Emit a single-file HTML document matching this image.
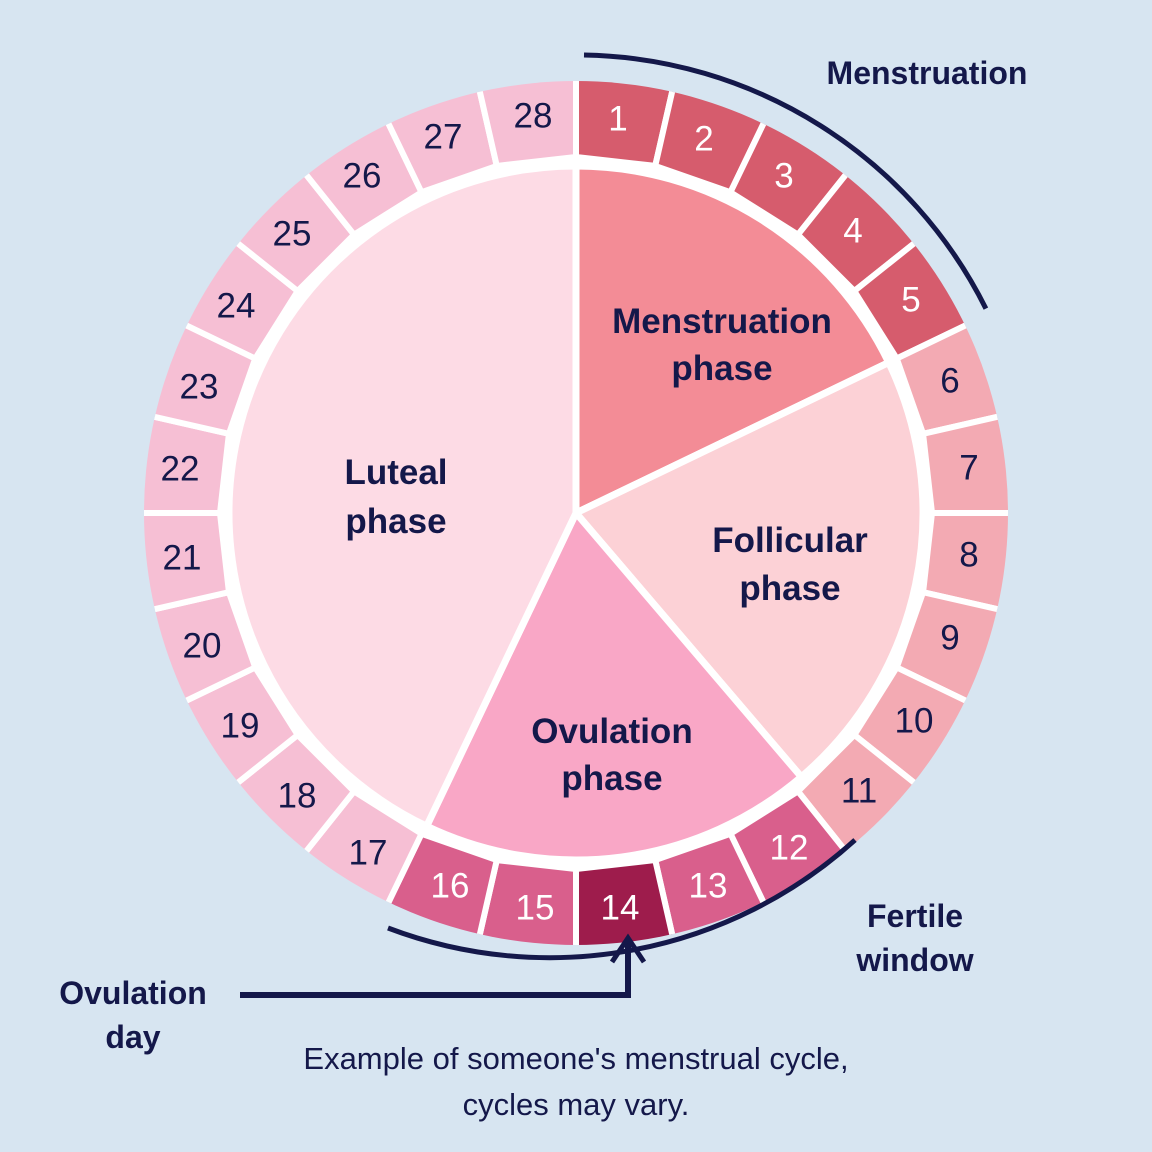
<!DOCTYPE html>
<html><head><meta charset="utf-8"><style>
html,body{margin:0;padding:0;background:#d7e5f1;}
svg{display:block;font-family:"Liberation Sans",sans-serif;}
</style></head><body>
<svg width="1152" height="1152" viewBox="0 0 1152 1152">
<rect width="1152" height="1152" fill="#d7e5f1"/>
<circle cx="576" cy="513" r="360" fill="#fff"/>
<defs>
<polygon id="seg" points="576,68 675,79.2 655.2,165.9 576,157"/>
<clipPath id="cp"><circle cx="576" cy="513" r="432"/></clipPath>
</defs>
<g stroke="#fff" stroke-width="6" stroke-linejoin="miter" clip-path="url(#cp)">
<use href="#seg" fill="#d65c6d" transform="rotate(0 576 513)"/>
<use href="#seg" fill="#d65c6d" transform="rotate(12.857 576 513)"/>
<use href="#seg" fill="#d65c6d" transform="rotate(25.714 576 513)"/>
<use href="#seg" fill="#d65c6d" transform="rotate(38.571 576 513)"/>
<use href="#seg" fill="#d65c6d" transform="rotate(51.429 576 513)"/>
<use href="#seg" fill="#f3aab3" transform="rotate(64.286 576 513)"/>
<use href="#seg" fill="#f3aab3" transform="rotate(77.143 576 513)"/>
<use href="#seg" fill="#f3aab3" transform="rotate(90 576 513)"/>
<use href="#seg" fill="#f3aab3" transform="rotate(102.857 576 513)"/>
<use href="#seg" fill="#f3aab3" transform="rotate(115.714 576 513)"/>
<use href="#seg" fill="#f3aab3" transform="rotate(128.571 576 513)"/>
<use href="#seg" fill="#d95f8c" transform="rotate(141.429 576 513)"/>
<use href="#seg" fill="#d95f8c" transform="rotate(154.286 576 513)"/>
<use href="#seg" fill="#9e1c4c" transform="rotate(167.143 576 513)"/>
<use href="#seg" fill="#d95f8c" transform="rotate(180 576 513)"/>
<use href="#seg" fill="#d95f8c" transform="rotate(192.857 576 513)"/>
<use href="#seg" fill="#f6bfd4" transform="rotate(205.714 576 513)"/>
<use href="#seg" fill="#f6bfd4" transform="rotate(218.571 576 513)"/>
<use href="#seg" fill="#f6bfd4" transform="rotate(231.429 576 513)"/>
<use href="#seg" fill="#f6bfd4" transform="rotate(244.286 576 513)"/>
<use href="#seg" fill="#f6bfd4" transform="rotate(257.143 576 513)"/>
<use href="#seg" fill="#f6bfd4" transform="rotate(270 576 513)"/>
<use href="#seg" fill="#f6bfd4" transform="rotate(282.857 576 513)"/>
<use href="#seg" fill="#f6bfd4" transform="rotate(295.714 576 513)"/>
<use href="#seg" fill="#f6bfd4" transform="rotate(308.571 576 513)"/>
<use href="#seg" fill="#f6bfd4" transform="rotate(321.429 576 513)"/>
<use href="#seg" fill="#f6bfd4" transform="rotate(334.286 576 513)"/>
<use href="#seg" fill="#f6bfd4" transform="rotate(347.143 576 513)"/>
</g>
<g stroke="#fff" stroke-width="7" stroke-linejoin="round">
<path d="M576,513 L576,166 A347,347 0 0 1 888.7,362.5 Z" fill="#f38c96"/>
<path d="M576,513 L888.7,362.5 A347,347 0 0 1 801.3,776.9 Z" fill="#fcd1d6"/>
<path d="M576,513 L801.3,776.9 A347,347 0 0 1 426.6,826.2 Z" fill="#f9a7c6"/>
<path d="M576,513 L426.6,826.2 A347,347 0 0 1 576,166 Z" fill="#fddbe5"/>
</g>
<g font-size="35" text-anchor="middle" dominant-baseline="central" fill="#14184a">
<g fill="#fff">
<text x="618" y="119">1</text><text x="704" y="139">2</text><text x="784" y="176">3</text><text x="853" y="231">4</text><text x="911" y="300">5</text>
<text x="789" y="848">12</text><text x="708" y="886">13</text><text x="620" y="908">14</text><text x="535" y="908">15</text><text x="450" y="886">16</text>
</g>
<text x="950" y="381">6</text><text x="969" y="468">7</text><text x="969" y="555">8</text><text x="950" y="638">9</text><text x="914" y="721">10</text><text x="859" y="791">11</text>
<text x="368" y="853">17</text><text x="297" y="796">18</text><text x="240" y="726">19</text><text x="202" y="646">20</text><text x="182" y="558">21</text><text x="180" y="469">22</text><text x="199" y="387">23</text><text x="236" y="306">24</text><text x="292" y="234">25</text><text x="362" y="176">26</text><text x="443" y="137">27</text><text x="533" y="116">28</text>
</g>
<g font-size="35" font-weight="bold" text-anchor="middle" fill="#14184a">
<text x="722" y="333">Menstruation</text><text x="722" y="380">phase</text>
<text x="396" y="484">Luteal</text><text x="396" y="533">phase</text>
<text x="790" y="552">Follicular</text><text x="790" y="600">phase</text>
<text x="612" y="743">Ovulation</text><text x="612" y="790">phase</text>
</g>
<g fill="none" stroke="#14184a" stroke-width="5">
<path d="M584,55 A458,458 0 0 1 985.9,308.6"/>
<path d="M388,928 A455,455 0 0 0 855,840"/>
<path d="M240,995 L628,995 L628,940" stroke-width="6"/>
<path d="M612,962 L628,938 L644,962"/>
</g>
<g font-size="32" font-weight="bold" text-anchor="middle" fill="#14184a">
<text x="927" y="84">Menstruation</text>
<text x="915" y="927">Fertile</text><text x="915" y="971">window</text>
<text x="133" y="1004">Ovulation</text><text x="133" y="1048">day</text>
</g>
<g font-size="31" text-anchor="middle" fill="#14184a">
<text x="576" y="1069">Example of someone's menstrual cycle,</text>
<text x="576" y="1115">cycles may vary.</text>
</g>
</svg>
</body></html>
